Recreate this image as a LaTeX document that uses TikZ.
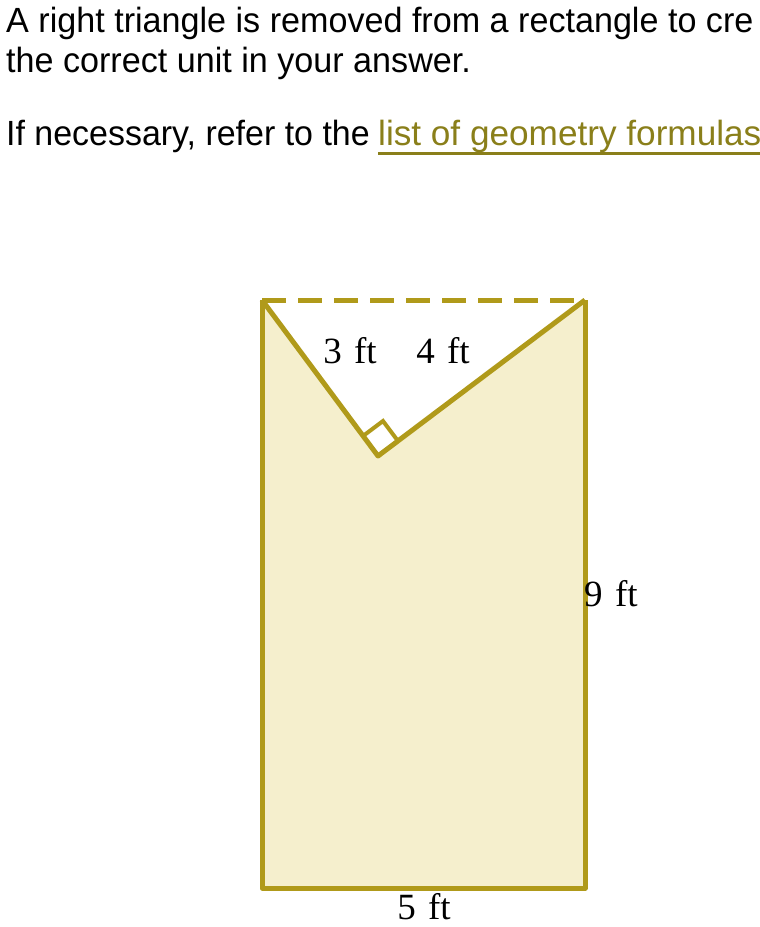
\documentclass[tikz,border=0pt]{standalone}
\usepackage{fontspec}
\setmainfont{Liberation Serif}
\newfontfamily\uifont{Liberation Sans}
\usepackage{graphicx}
\definecolor{edgec}{HTML}{B09A1A}
\definecolor{fillc}{HTML}{F5EFCD}
\definecolor{linkc}{HTML}{8A7F1A}
\tikzset{
  uitext/.style={anchor=base west, inner sep=0pt, font=\uifont\fontsize{35}{42}\selectfont},
  dimlabel/.style={inner sep=0pt, font=\fontsize{37}{44}\selectfont},
  outline/.style={draw=edgec, line width=5pt, line join=round},
  dashedge/.style={draw=edgec, line width=5pt, dash pattern=on 24pt off 12pt}
}
\begin{document}
\begin{tikzpicture}[x=1pt,y=-1pt]
\useasboundingbox (0,0) rectangle (760,927);
\fill[white] (0,0) rectangle (760,927);
% text
\node[uitext] (l1) at (6,32) {\scalebox{0.975}[1]{A right triangle is removed from a rectangle to cre}};
\node[uitext] (l2) at (6,72) {\scalebox{0.975}[1]{the correct unit in your answer.}};
\node[uitext] (l3) at (6,145) {\scalebox{0.97}[1]{If necessary, refer to the}};
\node[uitext, text=linkc] (l4) at (378,145) {\scalebox{1.005}[1]{list of geometry formulas}};
\coordinate (u1) at (378,153);
\coordinate (u2) at (760,153);
\draw[linkc, line width=3pt] (u1) -- (u2);
% shape
\coordinate (tl) at (262,300);
\coordinate (tr) at (585,300);
\coordinate (br) at (585,888);
\coordinate (bl) at (262,888);
\coordinate (ap) at (378,456);
\fill[fillc] (tl) -- (ap) -- (tr) -- (br) -- (bl) -- cycle;
\draw[outline] (tr) -- (br) -- (bl) -- (tl);
\draw[outline] (tl) -- (ap) -- (tr);
\draw[dashedge] (tl) -- (tr);
% right-angle mark
\coordinate (m1) at (363,436);
\coordinate (m2) at (383,421);
\coordinate (m3) at (398,441);
\draw[draw=edgec, line width=4pt] (m1) -- (m2) -- (m3);
% labels
\node[dimlabel] (a) at (350,351) {3\,\,ft};
\node[dimlabel] (b) at (443,351) {4\,\,ft};
\node[dimlabel, anchor=west] (c) at (584,594) {9\,\,ft};
\node[dimlabel] (d) at (424,907) {5\,\,ft};
\end{tikzpicture}
\end{document}
